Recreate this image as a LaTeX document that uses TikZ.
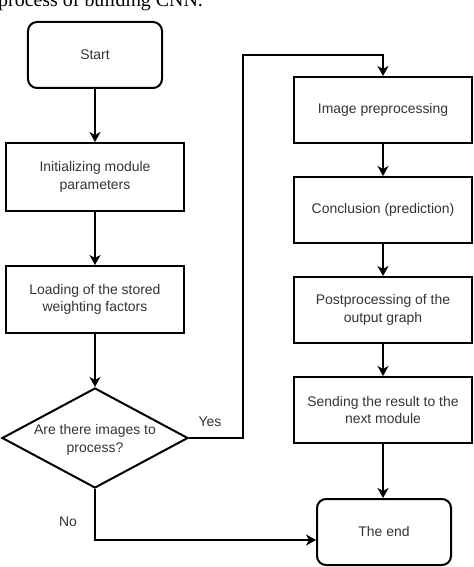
\documentclass[tikz,border=0pt]{standalone}
\usepackage{fontspec}
\setmainfont{Liberation Sans}
\newfontfamily\capfont{Liberation Serif}
\usetikzlibrary{shapes.geometric,arrows.meta}
\definecolor{txt}{HTML}{333333}
\tikzset{
  box/.style={draw=black, line width=2bp, fill=white, minimum width=178bp, minimum height=66bp,
    align=center, text=txt, font=\fontsize{14}{17.5}\selectfont, inner sep=0pt},
  term/.style={box, rounded corners=9bp, minimum width=134bp},
  decision/.style={draw=black, line width=2bp, diamond, aspect=1.86, minimum width=186bp, minimum height=100bp,
    inner sep=0pt},
  dectext/.style={align=center, text=txt, font=\fontsize{14}{17.5}\selectfont, inner sep=0pt},
  conn/.style={line width=2bp, -{Stealth[length=10bp,width=11bp,inset=3bp]}},
  lbl/.style={text=txt, font=\fontsize{14}{17}\selectfont, inner sep=0pt},
}
\begin{document}
\begin{tikzpicture}[x=1bp,y=-1bp]
\useasboundingbox (0,0) rectangle (474,567);
\node[anchor=base west, inner sep=0pt, font=\capfont\fontsize{20}{24}\selectfont] (cap) at (-2,7) {process of building CNN.};
\node[term] (start) at (95,55) {Start};
\node[box, minimum height=68bp] (init) at (95,177) {Initializing module\\parameters};
\node[box, minimum height=67bp] (load) at (95,299.5) {Loading of the stored\\weighting factors};
\node[decision] (dec) at (95,438) {};
\node[dectext] (dect) at (95,440) {Are there images to\\process?};
\node[box] (pre) at (383,110) {Image preprocessing};
\node[box] (conc) at (383,210) {Conclusion (prediction)};
\node[box] (post) at (383,310) {Postprocessing of the\\output graph};
\node[box] (send) at (383,410) {Sending the result to the\\next module};
\node[term] (end) at (384,532) {The end};
\coordinate (ya) at (243,55);
\coordinate (nb) at (95,540);
\draw[conn] (start) -- (init);
\draw[conn] (init) -- (load);
\draw[conn] (load) -- (dec);
\draw[conn] (dec.east) -| (ya) -| (pre.north);
\draw[conn] (pre) -- (conc);
\draw[conn] (conc) -- (post);
\draw[conn] (post) -- (send);
\draw[conn] (send.south) -- (send.south |- end.north);
\draw[conn] (dec.south) -- (nb) -- (nb -| end.west);
\node[lbl] (yes) at (210,422) {Yes};
\node[lbl] (no) at (68,522) {No};
\end{tikzpicture}
\end{document}
